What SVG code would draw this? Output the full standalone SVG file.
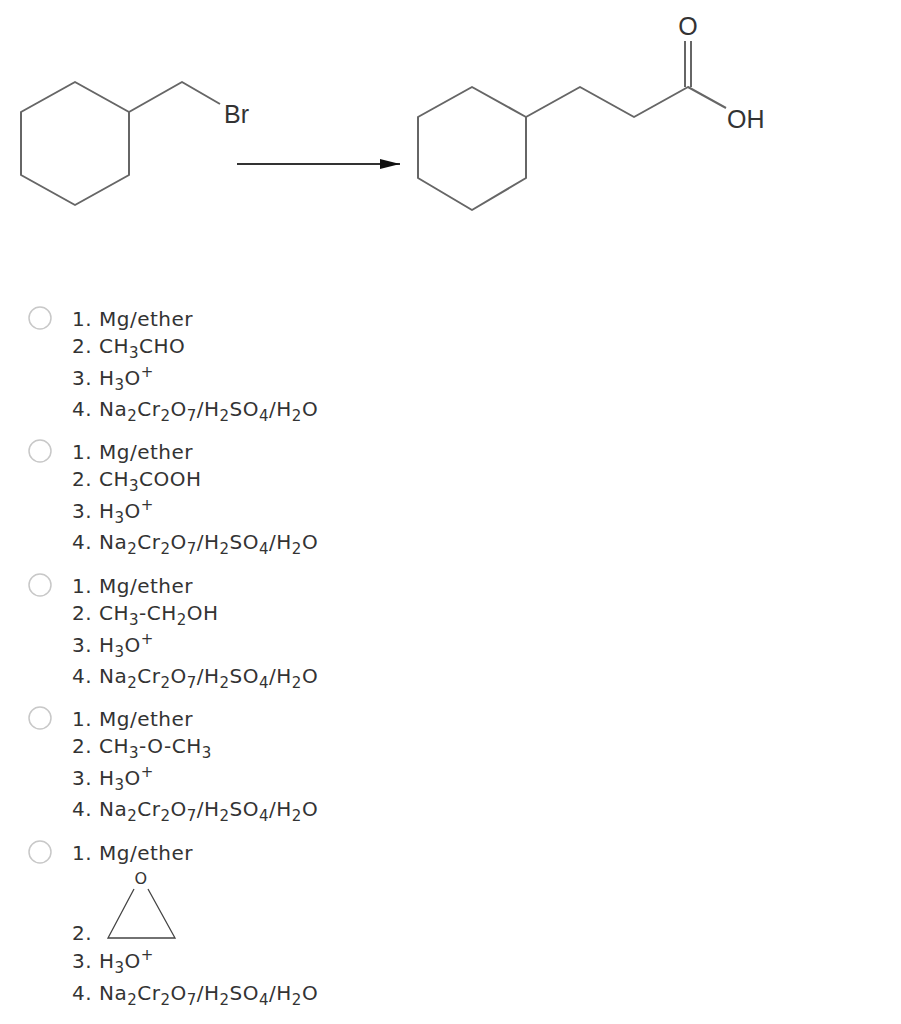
<svg xmlns="http://www.w3.org/2000/svg" width="901" height="1024" viewBox="0 0 901 1024">
<style>
.b{fill:none;stroke:#666;stroke-width:2;stroke-linejoin:round}
.lab{font-family:"Liberation Sans",Arial,sans-serif;font-size:25px;fill:#333}
.t{font-family:"DejaVu Sans",Verdana,sans-serif;font-size:20px;fill:#333;letter-spacing:0.5px}
.s{font-size:15px}
.r{fill:#fff;stroke:#c8c8c8;stroke-width:1.5}
</style>
<defs>
<marker id="ah" markerWidth="20" markerHeight="10" refX="20" refY="5" orient="auto" markerUnits="userSpaceOnUse"><path d="M0,0 L20,5 L0,10 Z" fill="#111"/></marker>
<g id="opt"><circle class="r" cx="40" cy="0" r="11"/></g>
</defs>
<g id="reactant">
<path class="b" d="M75,82 L129,112 L129,175 L75,205 L21,175 L21,112 Z M129,112 L182,82 L220,104"/>
<text class="lab" x="224" y="123">Br</text>
</g>
<g id="connectors">
<line x1="237" y1="164" x2="400" y2="164" stroke="#333" stroke-width="2" marker-end="url(#ah)"/>
</g>
<g id="product">
<path class="b" d="M472,87 L526,117 L526,178 L472,210 L418,178 L418,117 Z M526,117 L580,87 L634,117 L688,87 L726,108 M685,87 L685,41 M691,87 L691,41"/>
<text class="lab" x="688" y="35" text-anchor="middle">O</text>
<text class="lab" x="727" y="128">OH</text>
</g>
<g id="option1">
<use href="#opt" y="318"/>
<text class="t" x="72" y="326">1. Mg/ether</text>
<text class="t" x="72" y="353">2. CH<tspan class="s" dy="5">3</tspan><tspan dy="-5">CHO</tspan></text>
<text class="t" x="72" y="385">3. H<tspan class="s" dy="5">3</tspan><tspan dy="-5">O</tspan><tspan class="s" dy="-8">+</tspan></text>
<text class="t" x="72" y="416">4. Na<tspan class="s" dy="5">2</tspan><tspan dy="-5">Cr</tspan><tspan class="s" dy="5">2</tspan><tspan dy="-5">O</tspan><tspan class="s" dy="5">7</tspan><tspan dy="-5">/H</tspan><tspan class="s" dy="5">2</tspan><tspan dy="-5">SO</tspan><tspan class="s" dy="5">4</tspan><tspan dy="-5">/H</tspan><tspan class="s" dy="5">2</tspan><tspan dy="-5">O</tspan></text>
</g>
<g id="option2" transform="translate(0,133)">
<use href="#opt" y="318"/>
<text class="t" x="72" y="326">1. Mg/ether</text>
<text class="t" x="72" y="353">2. CH<tspan class="s" dy="5">3</tspan><tspan dy="-5">COOH</tspan></text>
<text class="t" x="72" y="385">3. H<tspan class="s" dy="5">3</tspan><tspan dy="-5">O</tspan><tspan class="s" dy="-8">+</tspan></text>
<text class="t" x="72" y="416">4. Na<tspan class="s" dy="5">2</tspan><tspan dy="-5">Cr</tspan><tspan class="s" dy="5">2</tspan><tspan dy="-5">O</tspan><tspan class="s" dy="5">7</tspan><tspan dy="-5">/H</tspan><tspan class="s" dy="5">2</tspan><tspan dy="-5">SO</tspan><tspan class="s" dy="5">4</tspan><tspan dy="-5">/H</tspan><tspan class="s" dy="5">2</tspan><tspan dy="-5">O</tspan></text>
</g>
<g id="option3" transform="translate(0,267)">
<use href="#opt" y="318"/>
<text class="t" x="72" y="326">1. Mg/ether</text>
<text class="t" x="72" y="353">2. CH<tspan class="s" dy="5">3</tspan><tspan dy="-5">-CH</tspan><tspan class="s" dy="5">2</tspan><tspan dy="-5">OH</tspan></text>
<text class="t" x="72" y="385">3. H<tspan class="s" dy="5">3</tspan><tspan dy="-5">O</tspan><tspan class="s" dy="-8">+</tspan></text>
<text class="t" x="72" y="416">4. Na<tspan class="s" dy="5">2</tspan><tspan dy="-5">Cr</tspan><tspan class="s" dy="5">2</tspan><tspan dy="-5">O</tspan><tspan class="s" dy="5">7</tspan><tspan dy="-5">/H</tspan><tspan class="s" dy="5">2</tspan><tspan dy="-5">SO</tspan><tspan class="s" dy="5">4</tspan><tspan dy="-5">/H</tspan><tspan class="s" dy="5">2</tspan><tspan dy="-5">O</tspan></text>
</g>
<g id="option4" transform="translate(0,400)">
<use href="#opt" y="318"/>
<text class="t" x="72" y="326">1. Mg/ether</text>
<text class="t" x="72" y="353">2. CH<tspan class="s" dy="5">3</tspan><tspan dy="-5">-O-CH</tspan><tspan class="s" dy="5">3</tspan></text>
<text class="t" x="72" y="385">3. H<tspan class="s" dy="5">3</tspan><tspan dy="-5">O</tspan><tspan class="s" dy="-8">+</tspan></text>
<text class="t" x="72" y="416">4. Na<tspan class="s" dy="5">2</tspan><tspan dy="-5">Cr</tspan><tspan class="s" dy="5">2</tspan><tspan dy="-5">O</tspan><tspan class="s" dy="5">7</tspan><tspan dy="-5">/H</tspan><tspan class="s" dy="5">2</tspan><tspan dy="-5">SO</tspan><tspan class="s" dy="5">4</tspan><tspan dy="-5">/H</tspan><tspan class="s" dy="5">2</tspan><tspan dy="-5">O</tspan></text>
</g>
<g id="option5">
<use href="#opt" y="852"/>
<text class="t" x="72" y="860">1. Mg/ether</text>
<text class="t" x="141" y="884" text-anchor="middle" style="font-size:16px">O</text>
<path d="M134,889 L108,938 L175,938 L148,889" fill="none" stroke="#444" stroke-width="1.3"/>
<text class="t" x="72" y="940">2.</text>
<text class="t" x="72" y="968">3. H<tspan class="s" dy="5">3</tspan><tspan dy="-5">O</tspan><tspan class="s" dy="-8">+</tspan></text>
<text class="t" x="72" y="1000">4. Na<tspan class="s" dy="5">2</tspan><tspan dy="-5">Cr</tspan><tspan class="s" dy="5">2</tspan><tspan dy="-5">O</tspan><tspan class="s" dy="5">7</tspan><tspan dy="-5">/H</tspan><tspan class="s" dy="5">2</tspan><tspan dy="-5">SO</tspan><tspan class="s" dy="5">4</tspan><tspan dy="-5">/H</tspan><tspan class="s" dy="5">2</tspan><tspan dy="-5">O</tspan></text>
</g>
</svg>
